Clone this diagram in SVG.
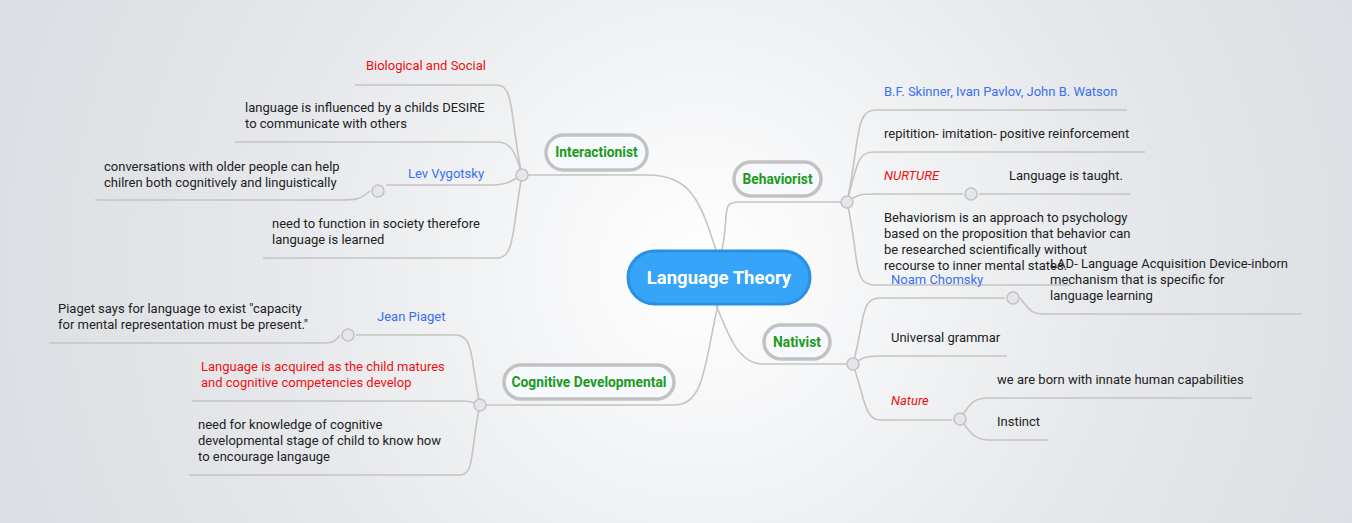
<svg xmlns="http://www.w3.org/2000/svg" width="1352" height="523" viewBox="0 0 1352 523">
<defs>
<radialGradient id="bg" cx="700" cy="270" r="700" gradientUnits="userSpaceOnUse"><stop offset="0" stop-color="#ffffff"/><stop offset="0.6" stop-color="#e6e8eb"/><stop offset="1" stop-color="#dcdfe3"/></radialGradient>
<style>
.c{fill:none;stroke:#c4c4c4;stroke-width:1.6}
.h{fill:#e4e6e9;stroke:#c4c4c4;stroke-width:1.6}
.m{fill:#f6f9fd;stroke:#c2c2c2;stroke-width:3.5}
.mt{font-family:Roboto,"Liberation Sans",sans-serif;font-size:13.8px;font-weight:bold;fill:#1d9a1d;text-anchor:middle}
.t{font-family:Roboto,"Liberation Sans",sans-serif;font-size:13px;fill:#222}
.r{fill:#ee1111}.b{fill:#3a6ff0}.i{font-style:italic}
</style>
</defs>
<rect width="1352" height="523" fill="url(#bg)"/>
<g id="connectors">
<path class="c" d="M716 250 C700 200 690 175 648 175 L522 175"/>
<path class="c" d="M722 250 C730 210 720 202 740 202 L847 202"/>
<path class="c" d="M716 305 C730 340 740 364 763 364 L853 364"/>
<path class="c" d="M718 305 C705 360 705 405 675 405 L480 405"/>
<path class="c" d="M522 175 C510 120 515 85 497 85 L355 85"/>
<path class="c" d="M522 175 C515 150 510 142 497 142 L235 142"/>
<path class="c" d="M522 175 C510 182 505 185 490 185 L386 185"/>
<path class="c" d="M370 191 C360 200 355 200 340 200 L95 200"/>
<path class="c" d="M522 175 C512 230 515 258 497 258 L263 258"/>
<path class="c" d="M847 202 C860 140 855 110 875 110 L1127 110"/>
<path class="c" d="M847 202 C858 160 858 152 875 152 L1145 152"/>
<path class="c" d="M847 202 C858 194 862 194 875 194 L963 194"/>
<path class="c" d="M979 194 L1130 194"/>
<path class="c" d="M847 202 C860 260 852 285 875 285 L1070 285"/>
<path class="c" d="M853 364 C865 320 860 298 880 298 L1005 298"/>
<path class="c" d="M1020 298 C1030 310 1030 314 1045 314 L1302 314"/>
<path class="c" d="M853 364 C862 358 865 356 880 356 L1007 356"/>
<path class="c" d="M853 364 C865 400 865 420 880 420 L952 420"/>
<path class="c" d="M960 419 C972 400 975 398 990 398 L1252 398"/>
<path class="c" d="M960 419 C972 435 975 440 990 440 L1048 440"/>
<path class="c" d="M480 405 C470 360 475 335 455 335 L356 335"/>
<path class="c" d="M340 335 C335 343 330 343 320 343 L49 343"/>
<path class="c" d="M480 405 C470 401 468 401 460 401 L192 401"/>
<path class="c" d="M480 405 C470 450 475 475 460 475 L189 475"/>
<circle class="h" cx="522" cy="175" r="6"/><circle class="h" cx="378" cy="191" r="6"/>
<circle class="h" cx="847" cy="202" r="6"/><circle class="h" cx="971" cy="194" r="6"/>
<circle class="h" cx="853" cy="364" r="6"/><circle class="h" cx="1013" cy="298" r="6"/><circle class="h" cx="960" cy="419" r="6"/>
<circle class="h" cx="480" cy="405" r="6"/><circle class="h" cx="348" cy="335" r="6"/>
</g>
<g id="center"><rect x="628" y="251" width="182" height="53" rx="26.5" fill="#36a4f8" stroke="#2b8fe2" stroke-width="3"/><text x="719" y="284" font-family="Roboto,'Liberation Sans',sans-serif" font-size="18.5" font-weight="bold" fill="#fff" text-anchor="middle">Language Theory</text></g>
<g id="interactionist"><rect class="m" x="546" y="135" width="101" height="35" rx="17.5"/><text class="mt" x="596.5" y="157">Interactionist</text></g>
<g id="behaviorist"><rect class="m" x="734" y="162" width="87" height="34" rx="17"/><text class="mt" x="777.5" y="184">Behaviorist</text></g>
<g id="nativist"><rect class="m" x="764" y="325" width="66" height="34" rx="17"/><text class="mt" x="797" y="347">Nativist</text></g>
<g id="cognitive"><rect class="m" x="504" y="365" width="170" height="34" rx="17"/><text class="mt" x="589" y="387">Cognitive Developmental</text></g>
<g id="leaves">
<text class="t r" x="486" y="70" text-anchor="end">Biological and Social</text>
<text class="t" x="245" y="112">language is influenced by a childs DESIRE</text><text class="t" x="245" y="128">to communicate with others</text>
<text class="t b" x="408" y="178">Lev Vygotsky</text>
<text class="t" x="104" y="171">conversations with older people can help</text><text class="t" x="104" y="187">chilren both cognitively and linguistically</text>
<text class="t" x="272" y="228">need to function in society therefore</text><text class="t" x="272" y="244">language is learned</text>
<text class="t b" x="884" y="96">B.F. Skinner, Ivan Pavlov, John B. Watson</text>
<text class="t" x="884" y="138">repitition- imitation- positive reinforcement</text>
<text class="t r i" x="884" y="180">NURTURE</text>
<text class="t" x="1009" y="180">Language is taught.</text>
<text class="t" x="884" y="222">Behaviorism is an approach to psychology</text><text class="t" x="884" y="238">based on the proposition that behavior can</text><text class="t" x="884" y="254">be researched scientifically without</text><text class="t" x="884" y="270">recourse to inner mental states.</text>
<text class="t b" x="891" y="284">Noam Chomsky</text>
<text class="t" x="1050" y="268">LAD- Language Acquisition Device-inborn</text><text class="t" x="1050" y="284">mechanism that is specific for</text><text class="t" x="1050" y="300">language learning</text>
<text class="t" x="891" y="342">Universal grammar</text>
<text class="t r i" x="891" y="405">Nature</text>
<text class="t" x="997" y="384">we are born with innate human capabilities</text>
<text class="t" x="997" y="426">Instinct</text>
<text class="t b" x="377" y="321">Jean Piaget</text>
<text class="t" x="58" y="313">Piaget says for language to exist "capacity</text><text class="t" x="58" y="329">for mental representation must be present."</text>
<text class="t r" x="201" y="371">Language is acquired as the child matures</text><text class="t r" x="201" y="387">and cognitive competencies develop</text>
<text class="t" x="198" y="429">need for knowledge of cognitive</text><text class="t" x="198" y="445">developmental stage of child to know how</text><text class="t" x="198" y="461">to encourage langauge</text>
</g>
</svg>
